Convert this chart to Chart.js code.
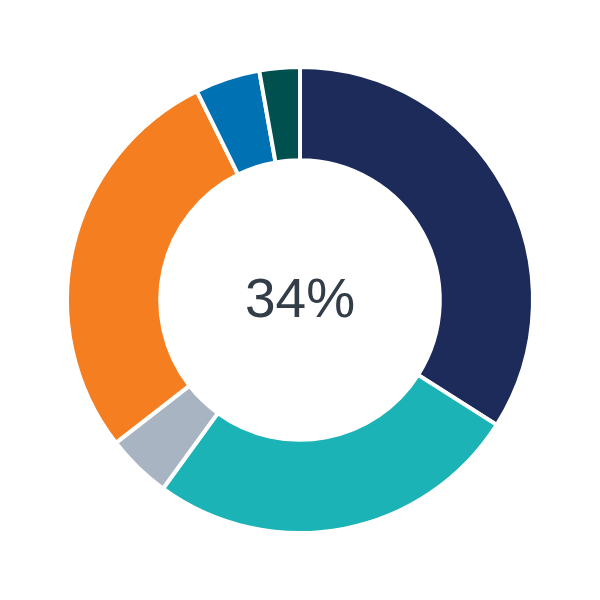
<!DOCTYPE html>
<html>
<head>
<meta charset="utf-8">
<script src="https://cdn.jsdelivr.net/npm/chart.js@4"></script>
<style>
  html, body { margin: 0; padding: 0; background: #fff; }
  #wrap { width: 600px; height: 600px; }
</style>
</head>
<body>
<div id="wrap"><canvas id="myDoughnut"></canvas></div>
<script>
// slice labels, values (percent) and colours, clockwise from 12 o'clock
const sliceLabels = ["A", "B", "C", "D", "E", "F"];
const sliceValues = [34, 26, 4.5, 28.2, 4.5, 2.8];
const sliceColors = ["#1c2b5a", "#1bb3b6", "#a9b4c2", "#f47e20", "#0072b4", "#00504f"];
const centerText = "34%";

// draws the big number in the hole
const centerLabel = {
  id: "centerLabel",
  afterDraw(chart) {
    const meta = chart.getDatasetMeta(0).data[0];
    if (!meta) return;
    const ctx = chart.ctx;
    ctx.save();
    ctx.font = "55px 'Liberation Sans', Arial, sans-serif";
    ctx.fillStyle = "#333d47";
    ctx.textAlign = "center";
    ctx.textBaseline = "middle";
    ctx.fillText(centerText, meta.x, meta.y + 2);
    ctx.restore();
  },
};

const ctx1 = document.getElementById("myDoughnut").getContext("2d");
new Chart(ctx1, {
  type: "doughnut",
  data: {
    labels: sliceLabels,
    datasets: [
      {
        data: sliceValues,
        backgroundColor: sliceColors,
        borderColor: "#ffffff",
        borderWidth: 4,
      },
    ],
  },
  options: {
    responsive: true,
    maintainAspectRatio: false,
    animation: false,
    cutout: "60%",
    layout: { padding: 65 },
    plugins: {
      legend: { display: false },
      tooltip: { enabled: false },
    },
  },
  plugins: [centerLabel],
});
</script>
</body>
</html>
